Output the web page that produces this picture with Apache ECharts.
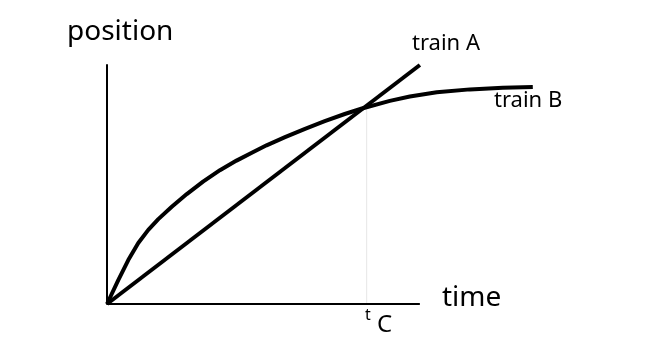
<!DOCTYPE html>
<html>
<head>
<meta charset="utf-8">
<script src="https://cdn.jsdelivr.net/npm/echarts@6/dist/echarts.min.js"></script>
<style>
  html, body { margin: 0; padding: 0; background: #fff; }
  #chart { width: 655px; height: 355px; }
</style>
</head>
<body>
<div id="chart"></div>
<script>
// train A: straight line (constant speed)
var trainA = [[0, 0], [10, 10]]
// train B: curve (time, position)
var trainB = [
  [0, 0], [0.36, 1.0], [0.68, 1.84], [1.0, 2.55], [1.32, 3.1], [1.64, 3.55],
  [2.07, 4.07], [2.55, 4.6], [3.07, 5.12], [3.61, 5.6], [4.14, 6.0],
  [4.66, 6.35], [5.1, 6.64], [5.69, 6.98], [6.33, 7.33], [6.96, 7.65],
  [7.6, 7.95], [8.15, 8.18], [9.04, 8.5], [9.68, 8.68], [10.54, 8.86],
  [11.6, 8.98], [12.65, 9.05], [13.61, 9.08]
]
var tC = 8.3 // where the two trains meet
var timeAxisEnd = 10 // the drawn time axis stops here, train B runs on past it
var posMax = 10

var chart = echarts.init(document.getElementById('chart'))
var font = '"Noto Sans", sans-serif'

chart.setOption({
  animation: false,
  grid: { left: 107, right: 110, top: 65, bottom: 51 },
  xAxis: {
    type: 'value', min: 0, max: 14,
    axisLine: { show: false },
    axisTick: { show: false }, axisLabel: { show: false }, splitLine: { show: false }
  },
  yAxis: {
    type: 'value', min: 0, max: posMax,
    axisLine: { show: true, lineStyle: { color: '#000', width: 2 } },
    axisTick: { show: false }, axisLabel: { show: false }, splitLine: { show: false }
  },
  series: [
    { // time axis line
      type: 'line', data: [[0, 0], [timeAxisEnd, 0]], symbol: 'none', silent: true,
      lineStyle: { color: '#000', width: 2 }, z: 2
    },
    { // faint guide at t_C
      type: 'line', data: [[tC, 0], [tC, tC]], symbol: 'none', silent: true,
      lineStyle: { color: '#e6e6e6', width: 1 }, z: 1
    },
    {
      name: 'train A', type: 'line', data: trainA, symbol: 'none',
      lineStyle: { color: '#000', width: 4 }, z: 3
    },
    {
      name: 'train B', type: 'line', data: trainB, symbol: 'none', smooth: false,
      lineStyle: { color: '#000', width: 4, join: 'round' }, z: 3
    }
  ],
  graphic: [
    { type: 'text', left: 67, top: 18, style: { text: 'position', font: '28px ' + font, fill: '#000' } },
    { type: 'text', left: 412, top: 33, style: { text: 'train A', font: '22px ' + font, fill: '#000' } },
    { type: 'text', left: 494, top: 90, style: { text: 'train B', font: '22px ' + font, fill: '#000' } },
    { type: 'text', left: 442, top: 284, style: { text: 'time', font: '28px ' + font, fill: '#000' } },
    { type: 'text', left: 365, top: 307, style: { text: 't', font: '16px ' + font, fill: '#000' } },
    { type: 'text', left: 377, top: 313, style: { text: 'C', font: '24px ' + font, fill: '#000' } }
  ]
})
</script>
</body>
</html>
